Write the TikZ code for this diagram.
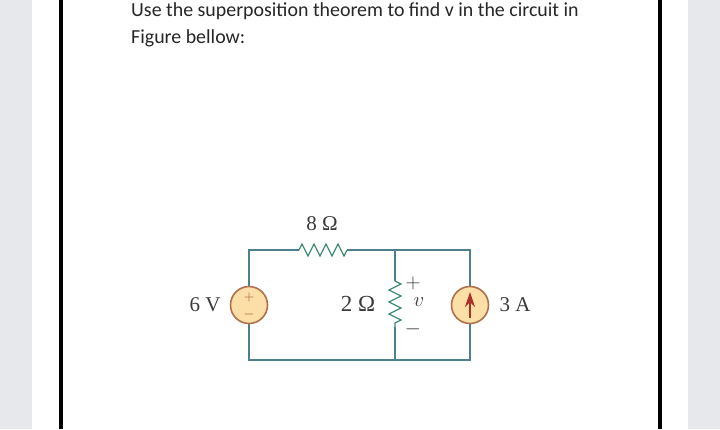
\documentclass[tikz,border=0pt]{standalone}
\usepackage{fontspec}
\setsansfont{Carlito}
\newfontfamily\labelfont{Liberation Serif}
\usepackage{tikz}
\usetikzlibrary{arrows.meta, decorations.pathmorphing}
\definecolor{wirecol}{HTML}{4E7F8E}
\definecolor{rescol}{HTML}{3E8F72}
\definecolor{srcfill}{HTML}{FBDFA6}
\definecolor{srcline}{HTML}{B06F4C}
\definecolor{arrowcol}{HTML}{A8322A}
\definecolor{bandcol}{HTML}{E6E8EC}
\definecolor{labelcol}{HTML}{3A3A3A}

\begin{document}
\begin{tikzpicture}[
		x=1pt, y=-1pt,
		wire/.style={draw=wirecol, line width=1.3pt},
		resistor/.style={draw=rescol, line width=1.3pt, decorate, decoration={zigzag, segment length=12pt, amplitude=6pt}},
		source/.style={circle, draw=srcline, fill=srcfill, line width=1.6pt, minimum size=37pt, inner sep=0pt},
		sign/.style={text=srcline, font=\boldmath\fontsize{13}{13}\selectfont, inner sep=0pt},
		value/.style={text=labelcol, font=\labelfont\fontsize{21}{21}\selectfont, inner sep=0pt},
		polarity/.style={text=labelcol, font=\fontsize{20}{20}\selectfont, inner sep=0pt},
		question/.style={anchor=base west, inner sep=0pt, text=black!85, font=\sffamily\fontsize{19.9}{20}\selectfont}
		]

		\useasboundingbox (0,0) rectangle (720,429);

		% --- Page ---
		\fill[bandcol] (0,0) rectangle (32,429);
		\fill[bandcol] (688,0) rectangle (720,429);
		\fill[black] (59,0) rectangle (63,429);
		\fill[black] (658,0) rectangle (662,429);

		\node[question] (Q1) at (131,16) {Use the superposition theorem to find v in the circuit in};
		\node[question] (Q2) at (131,43) {Figure bellow:};

		% --- Circuit ---
		\coordinate (TL) at (249,250);
		\coordinate (TM) at (395,250);
		\coordinate (TR) at (470,250);
		\coordinate (BL) at (249,360);
		\coordinate (BM) at (395,360);
		\coordinate (BR) at (470,360);
		\coordinate (R1a) at (299,250);
		\coordinate (R1b) at (347,250);
		\coordinate (R2a) at (395,281);
		\coordinate (R2b) at (395,327);

		\node[source] (VS) at (249,305) {};
		\node[source] (IS) at (470,305) {};

		\draw[wire] (VS) -- (TL) -- (R1a);
		\draw[wire] (R1b) -- (TR) -- (IS);
		\draw[wire] (VS) -- (BL) -- (BR) -- (IS);
		\draw[wire] (TM) -- (R2a);
		\draw[wire] (R2b) -- (BM);
		\draw[resistor] (R1a) -- (R1b);
		\draw[resistor] (R2a) -- (R2b);

		\node[sign] (VP) at (249,297.5) {$+$};
		\node[sign] (VM) at (249,314) {$-$};

		\coordinate (IA) at (470,318);
		\coordinate (IB) at (470,292);
		\draw[-{Stealth[length=15pt, width=10pt]}, draw=arrowcol, fill=arrowcol, line width=1.8pt] (IA) -- (IB);

		% --- Labels ---
		\node[value] (L8) at (322,224) {8 Ω};
		\node[value] (L6) at (205,305) {6 V};
		\node[value, font=\labelfont\fontsize{23}{23}\selectfont] (L2) at (358,304) {2 Ω};
		\node[value] (L3) at (515,305) {3 A};
		\node[polarity] (VPL) at (413,283) {$+$};
		\node[polarity] (VVL) at (419,302) {$v$};
		\node[polarity] (VML) at (413,329) {$-$};

	\end{tikzpicture}
\end{document}
